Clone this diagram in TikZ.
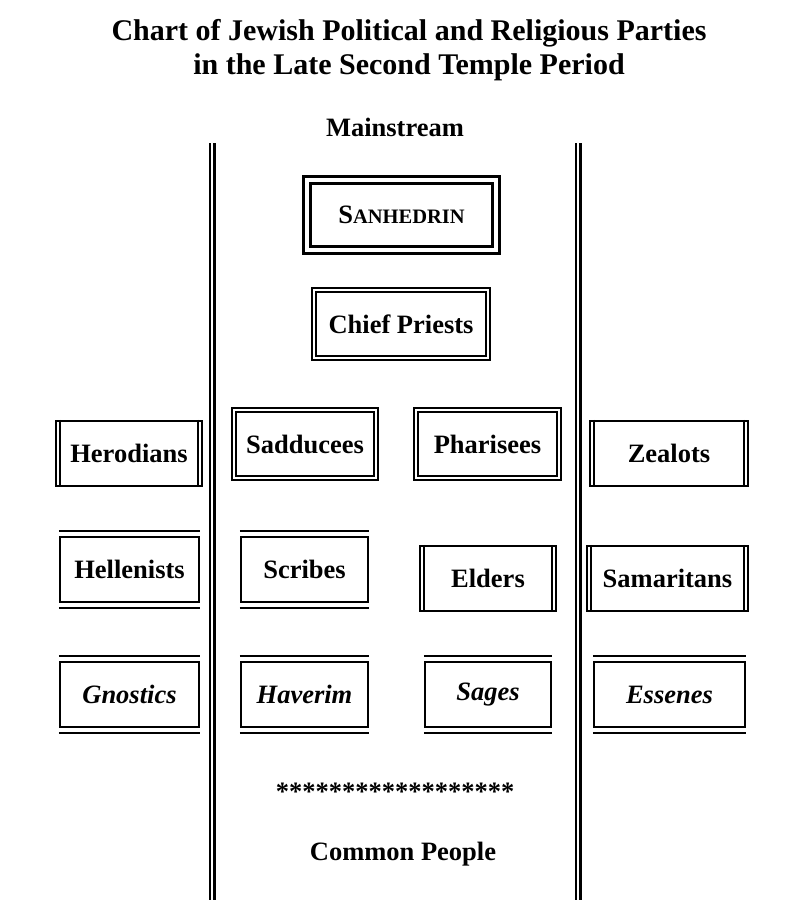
\documentclass[tikz,border=0pt]{standalone}
\usepackage{fontspec}
\setmainfont{Liberation Serif}
\usetikzlibrary{calc}
\begin{document}
\begin{tikzpicture}[x=1pt,y=-1pt,
  lbl/.style={font=\fontsize{26.5}{30}\selectfont\bfseries},
  ital/.style={font=\fontsize{26.5}{30}\selectfont\bfseries\itshape},
  box/.style={draw,line width=2.2pt,inner sep=0pt,minimum width=#1},
  dblbox/.style={draw,line width=2pt,double,double distance=2.8pt,inner sep=0pt,minimum width=#1,minimum height=68pt},
  ln/.style={line width=2.2pt},
  thin/.style={line width=1.8pt}]
\useasboundingbox (0,0) rectangle (800,924);
\node[font=\fontsize{30}{34}\selectfont\bfseries,align=center] (title) at (409,50) {Chart of Jewish Political and Religious Parties\\in the Late Second Temple Period};
\node[lbl] (main) at (395,127) {Mainstream};
% dividers
\coordinate (l1) at (210,143); \coordinate (l2) at (210,900);
\coordinate (l3) at (214.5,143); \coordinate (l4) at (214.5,900);
\coordinate (r1) at (576,143); \coordinate (r2) at (576,900);
\coordinate (r3) at (580.5,143); \coordinate (r4) at (580.5,900);
\draw[ln] (l1) -- (l2) (l3) -- (l4) (r1) -- (r2) (r3) -- (r4);
% Sanhedrin
\node[lbl,draw,line width=3pt,double,double distance=4.5pt,inner sep=0pt,minimum width=189pt,minimum height=70pt] (san) at (401.5,215) {S\fontsize{20.5}{22}\selectfont ANHEDRIN};
\node[lbl,dblbox=174pt] (cp) at (401,324) {Chief Priests};
\node[lbl,dblbox=142pt] (sad) at (305,444) {Sadducees};
\node[lbl,dblbox=143pt] (phar) at (487.5,444) {Pharisees};
% vertical-double boxes
\node[lbl,box=146pt,minimum height=65pt] (hero) at (129,453.5) {Herodians};
\node[lbl,box=158pt,minimum height=65pt] (zeal) at (669,453.5) {Zealots};
\node[lbl,box=136pt,minimum height=65pt] (eld) at (488,578.5) {Elders};
\node[lbl,box=161pt,minimum height=65pt] (sam) at (667.5,578.5) {Samaritans};
\foreach \n in {hero,zeal,eld,sam}{
  \draw[thin] ($(\n.north west)+(5,0)$) -- ($(\n.south west)+(5,0)$)
              ($(\n.north east)+(-5,0)$) -- ($(\n.south east)+(-5,0)$);
}
% horizontal-double boxes
\node[lbl,box=139pt,minimum height=65pt] (hel) at (129.5,569.5) {Hellenists};
\node[lbl,box=127pt,minimum height=65pt] (scr) at (304.5,569.5) {Scribes};
\node[ital,box=139pt,minimum height=65pt] (gno) at (129.5,694.5) {Gnostics};
\node[ital,box=127pt,minimum height=65pt] (hav) at (304.5,694.5) {Haverim};
\node[ital,box=126pt,minimum height=65pt] (sag) at (488,694.5) {Sages};
\node[ital,box=151pt,minimum height=65pt] (ess) at (669.5,694.5) {Essenes};
\foreach \n in {hel,scr,gno,hav,sag,ess}{
  \draw[thin] ($(\n.north west)+(0,-5)$) -- ($(\n.north east)+(0,-5)$)
              ($(\n.south west)+(0,5)$) -- ($(\n.south east)+(0,5)$);
}
\node[lbl] (stars) at (395,792) {******************};
\node[lbl] (common) at (403,854) {Common People};
\end{tikzpicture}
\end{document}
